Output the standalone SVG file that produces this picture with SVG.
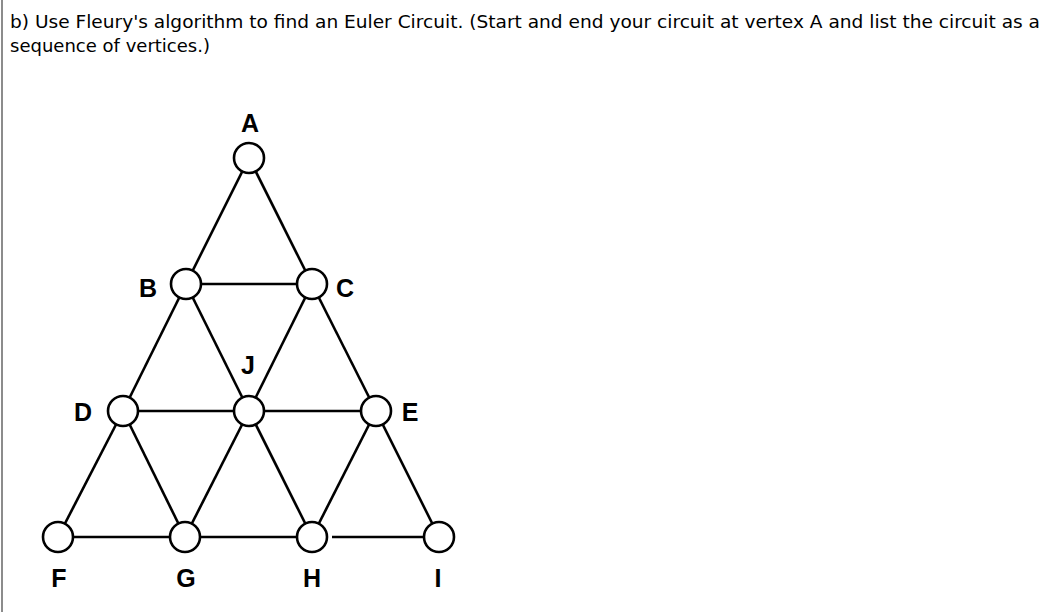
<svg xmlns="http://www.w3.org/2000/svg" width="1058" height="612" viewBox="0 0 1058 612">
<style>
.q{font-family:"DejaVu Sans",Tahoma,sans-serif;font-size:18.5px;fill:#000}
.lbl{font-family:"Liberation Sans",Arial,sans-serif;font-size:25px;font-weight:bold;fill:#000;text-anchor:middle}
.e{stroke:#000;stroke-width:2.6;fill:none}
.v{fill:#fff;stroke:#000;stroke-width:2.6}
</style>
<rect width="1058" height="612" fill="#fff"/>
<line x1="2" y1="0" x2="2" y2="612" stroke="#666" stroke-width="1.5"/>
<text class="q" x="10" y="28" textLength="1030" lengthAdjust="spacingAndGlyphs">b) Use Fleury's algorithm to find an Euler Circuit. (Start and end your circuit at vertex A and list the circuit as a</text>
<text class="q" x="10" y="52" textLength="200" lengthAdjust="spacingAndGlyphs">sequence of vertices.)</text>
<g id="connectors">
<line class="e" x1="249" y1="158" x2="186" y2="284"/>
<line class="e" x1="249" y1="158" x2="312" y2="284"/>
<line class="e" x1="186" y1="284" x2="312" y2="284"/>
<line class="e" x1="186" y1="284" x2="123" y2="411"/>
<line class="e" x1="186" y1="284" x2="249" y2="411"/>
<line class="e" x1="312" y1="284" x2="249" y2="411"/>
<line class="e" x1="312" y1="284" x2="376" y2="411"/>
<line class="e" x1="123" y1="411" x2="376" y2="411"/>
<line class="e" x1="123" y1="411" x2="58" y2="537"/>
<line class="e" x1="123" y1="411" x2="185" y2="537"/>
<line class="e" x1="249" y1="411" x2="185" y2="537"/>
<line class="e" x1="249" y1="411" x2="312" y2="537"/>
<line class="e" x1="376" y1="411" x2="312" y2="537"/>
<line class="e" x1="376" y1="411" x2="439" y2="537"/>
<line class="e" x1="58" y1="537" x2="312" y2="537"/>
<line class="e" x1="332" y1="537" x2="439" y2="537"/>
</g>
<g id="A"><circle class="v" cx="249" cy="158" r="15"/><text class="lbl" x="250" y="132">A</text></g>
<g id="B"><circle class="v" cx="186" cy="284" r="15"/><text class="lbl" x="148" y="297">B</text></g>
<g id="C"><circle class="v" cx="312" cy="284" r="15"/><text class="lbl" x="345" y="297">C</text></g>
<g id="J"><circle class="v" cx="249" cy="411" r="15"/><text class="lbl" x="248" y="374">J</text></g>
<g id="D"><circle class="v" cx="123" cy="411" r="15"/><text class="lbl" x="83" y="421">D</text></g>
<g id="E"><circle class="v" cx="376" cy="411" r="15"/><text class="lbl" x="410" y="421">E</text></g>
<g id="F"><circle class="v" cx="58" cy="537" r="15"/><text class="lbl" x="59" y="587">F</text></g>
<g id="G"><circle class="v" cx="185" cy="537" r="15"/><text class="lbl" x="186" y="587">G</text></g>
<g id="H"><circle class="v" cx="312" cy="537" r="15"/><text class="lbl" x="312" y="587">H</text></g>
<g id="I"><circle class="v" cx="439" cy="537" r="15"/><text class="lbl" x="438" y="587">I</text></g>
</svg>
